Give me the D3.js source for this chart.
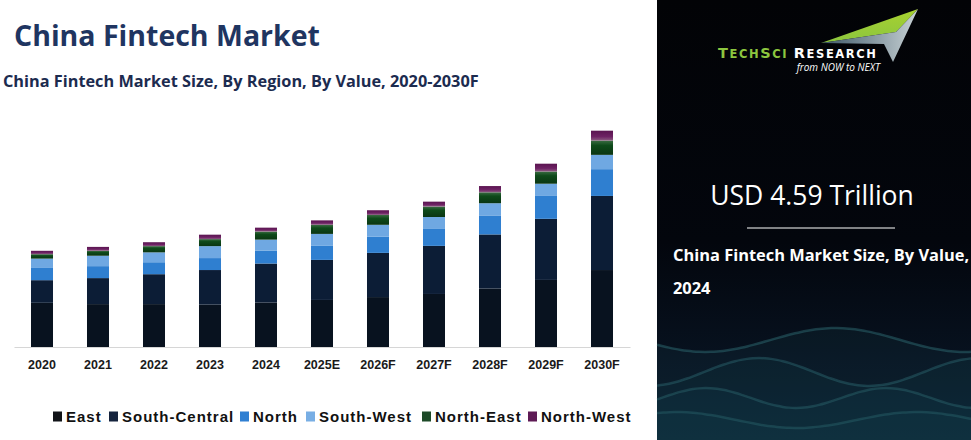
<!DOCTYPE html>
<html>
<head>
<meta charset="utf-8">
<script src="https://cdn.jsdelivr.net/npm/d3@7"></script>
<style>
  html, body { margin: 0; padding: 0; background: #fff; }
  svg { display: block; }
</style>
</head>
<body>
<div id="chart"></div>
<script>
// Years on the x axis
const years = ["2020", "2021", "2022", "2023", "2024", "2025E", "2026F", "2027F", "2028F", "2029F", "2030F"];

// Region names (stack order, bottom to top)
const regions = ["East", "South-Central", "North", "South-West", "North-East", "North-West"];

// Values in USD trillion
const east         = [1.70, 1.65, 1.65, 1.63, 1.71, 1.81, 1.92, 2.04, 2.25, 2.58, 2.96];
const southCentral = [0.87, 1.00, 1.15, 1.33, 1.50, 1.54, 1.70, 1.85, 2.08, 2.35, 2.85];
const north        = [0.47, 0.46, 0.46, 0.46, 0.50, 0.54, 0.62, 0.65, 0.73, 0.88, 1.03];
const southWest    = [0.36, 0.40, 0.38, 0.46, 0.42, 0.46, 0.46, 0.46, 0.47, 0.47, 0.55];
const northEast    = [0.17, 0.19, 0.24, 0.27, 0.31, 0.35, 0.38, 0.40, 0.42, 0.47, 0.55];
const northWest    = [0.13, 0.15, 0.15, 0.17, 0.15, 0.17, 0.18, 0.19, 0.24, 0.30, 0.38];

const seriesValues = [east, southCentral, north, southWest, northEast, northWest];

const W = 971, H = 440;

const svg = d3.select("#chart").append("svg")
    .attr("width", W)
    .attr("height", H);

const defs = svg.append("defs");

// gradients for the thin top segments
function vGrad(id, stops) {
    const g = defs.append("linearGradient").attr("id", id)
        .attr("x1", 0).attr("y1", 0).attr("x2", 0).attr("y2", 1);
    stops.forEach(s => g.append("stop").attr("offset", s[0]).attr("stop-color", s[1]));
}
vGrad("gNE", [[0, "#3a6b42"], [0.35, "#0e4a1a"], [1, "#0a3512"]]);
vGrad("gNW", [[0, "#5a1450"], [0.6, "#6e2264"], [1, "#8a5a80"]]);

const fills = ["#08121f", "#0c1d36", "#2f7fd0", "#6fa8e2", "url(#gNE)", "url(#gNW)"];
const legendColors = ["#111418", "#15233d", "#2f7fd2", "#78aee4", "#1d4a28", "#5e1a55"];

// ---------- left side: titles ----------
svg.append("text")
    .attr("x", 14).attr("y", 46)
    .attr("fill", "#1f3561")
    .style("font-family", "'Open Sans', sans-serif")
    .style("font-weight", 700)
    .style("font-size", "28.5px")
    .text("China Fintech Market");

svg.append("text")
    .attr("x", 3).attr("y", 87)
    .attr("fill", "#1c2b4f")
    .style("font-family", "'Open Sans', sans-serif")
    .style("font-weight", 700)
    .style("font-size", "16.3px")
    .text("China Fintech Market Size, By Region, By Value, 2020-2030F");

// ---------- chart ----------
const baseY = 347;

const x = d3.scaleBand()
    .domain(years)
    .range([14, 630])
    .paddingInner(0.607)
    .paddingOuter(0.3035);

const y = d3.scaleLinear()
    .domain([0, 8.5])
    .range([baseY, baseY - 8.5 * 26]);

const table = years.map((yr, i) => {
    const row = { year: yr };
    regions.forEach((r, j) => { row[r] = seriesValues[j][i]; });
    return row;
});

const stacked = d3.stack().keys(regions)(table);

const layers = svg.append("g").selectAll("g")
    .data(stacked)
    .join("g")
    .attr("fill", (d, i) => fills[i]);

layers.selectAll("rect")
    .data(d => d)
    .join("rect")
    .attr("x", d => x(d.data.year))
    .attr("width", x.bandwidth())
    .attr("y", d => y(d[1]))
    .attr("height", d => y(d[0]) - y(d[1]));

const xAxis = d3.axisBottom(x).tickSize(0).tickPadding(13);
const xAxisGroup = svg.append("g")
    .attr("transform", `translate(0,${baseY})`)
    .call(xAxis);

xAxisGroup.select(".domain").attr("stroke", "#d6d6d6").attr("stroke-width", 1.2);
xAxisGroup.selectAll("text")
    .attr("fill", "#1a1a1a")
    .style("font-family", "'Liberation Sans', Arial, sans-serif")
    .style("font-weight", 700)
    .style("font-size", "12.5px");

// ---------- legend ----------
const legendX = [53, 109, 240, 306, 422, 528];
const legend = svg.append("g")
    .selectAll("g")
    .data(regions)
    .join("g")
    .attr("transform", (d, i) => `translate(${legendX[i]},410)`);

legend.append("rect")
    .attr("width", 9).attr("height", 10).attr("y", 1.5)
    .attr("fill", (d, i) => legendColors[i]);

legend.append("text")
    .attr("x", 13).attr("y", 11.5)
    .attr("fill", "#111")
    .style("font-family", "'Liberation Sans', Arial, sans-serif")
    .style("font-weight", 700)
    .style("font-size", "15px")
    .style("letter-spacing", "1px")
    .text(d => d);

// ---------- right panel ----------
const px = 657;
const panel = svg.append("g");

vGrad("gPanel", [[0, "#020306"], [0.55, "#03060d"], [1, "#0a1a2c"]]);
panel.append("rect")
    .attr("x", px).attr("y", 0)
    .attr("width", W - px).attr("height", H)
    .attr("fill", "url(#gPanel)");

// decorative waves at the bottom of the panel
const waveDefs = [
    { base: 340, amp: 12, len: 260, ph: 0.4, op: 0.35 },
    { base: 372, amp: 14, len: 220, ph: 1.8, op: 0.3 },
    { base: 398, amp: 10, len: 180, ph: 3.0, op: 0.28 },
    { base: 420, amp: 8, len: 240, ph: 4.2, op: 0.25 }
];
const waveLine = d3.line().curve(d3.curveBasis);
waveDefs.forEach(w => {
    const pts = d3.range(px, W + 6, 6).map(xx => [xx, w.base + w.amp * Math.sin((xx - px) / w.len * 2 * Math.PI + w.ph)]);
    panel.append("path")
        .attr("d", waveLine(pts) + `L${W},${H}L${px},${H}Z`)
        .attr("fill", "#1f5a66")
        .attr("fill-opacity", w.op * 0.35);
    panel.append("path")
        .attr("d", waveLine(pts))
        .attr("fill", "none")
        .attr("stroke", "#3f8f95")
        .attr("stroke-opacity", w.op)
        .attr("stroke-width", 2.5);
});

// logo arrow
vGrad("gArrow", [[0, "#a8d12f"], [1, "#8cc63f"]]);
const lg = defs.append("linearGradient").attr("id", "gArrowLow")
    .attr("x1", 0).attr("y1", 0).attr("x2", 1).attr("y2", 0);
lg.append("stop").attr("offset", 0).attr("stop-color", "#3b5566");
lg.append("stop").attr("offset", 1).attr("stop-color", "#c9d3d6");

panel.append("path")
    .attr("d", "M821,43 L918,9 L896,32 Z")
    .attr("fill", "url(#gArrow)");
panel.append("path")
    .attr("d", "M821,43 L896,32 L918,9 L893,62 L884,44 Z")
    .attr("fill", "url(#gArrowLow)");

// logo text
const logo = panel.append("text")
    .attr("x", 718).attr("y", 58)
    .style("font-family", "'DejaVu Sans', sans-serif")
    .style("font-weight", 700)
    .style("letter-spacing", "1.6px");
logo.append("tspan").attr("fill", "#8cc63f").style("font-size", "14.5px").text("T");
logo.append("tspan").attr("fill", "#8cc63f").style("font-size", "11.5px").text("ECH");
logo.append("tspan").attr("fill", "#8cc63f").style("font-size", "14.5px").text("S");
logo.append("tspan").attr("fill", "#8cc63f").style("font-size", "11.5px").text("CI ");
logo.append("tspan").attr("fill", "#ffffff").style("font-size", "14.5px").text("R");
logo.append("tspan").attr("fill", "#ffffff").style("font-size", "11.5px").text("ESEARCH");

panel.append("text")
    .attr("x", 880).attr("y", 71)
    .attr("text-anchor", "end")
    .attr("fill", "#ffffff")
    .style("font-family", "'Open Sans', sans-serif")
    .style("font-style", "italic")
    .style("font-size", "10px")
    .text("from NOW to NEXT");

panel.append("text")
    .attr("x", 812).attr("y", 205)
    .attr("text-anchor", "middle")
    .attr("fill", "#ffffff")
    .style("font-family", "'Open Sans', sans-serif")
    .style("font-size", "26.5px")
    .text("USD 4.59 Trillion");

panel.append("line")
    .attr("x1", 747).attr("x2", 895)
    .attr("y1", 228).attr("y2", 228)
    .attr("stroke", "#ffffff").attr("stroke-width", 1);

panel.append("text")
    .attr("x", 673).attr("y", 261)
    .attr("fill", "#ffffff")
    .style("font-family", "'Open Sans', sans-serif")
    .style("font-weight", 700)
    .style("font-size", "16.4px")
    .text("China Fintech Market Size, By Value,");

panel.append("text")
    .attr("x", 673).attr("y", 294)
    .attr("fill", "#ffffff")
    .style("font-family", "'Open Sans', sans-serif")
    .style("font-weight", 700)
    .style("font-size", "16.4px")
    .text("2024");
</script>
</body>
</html>
